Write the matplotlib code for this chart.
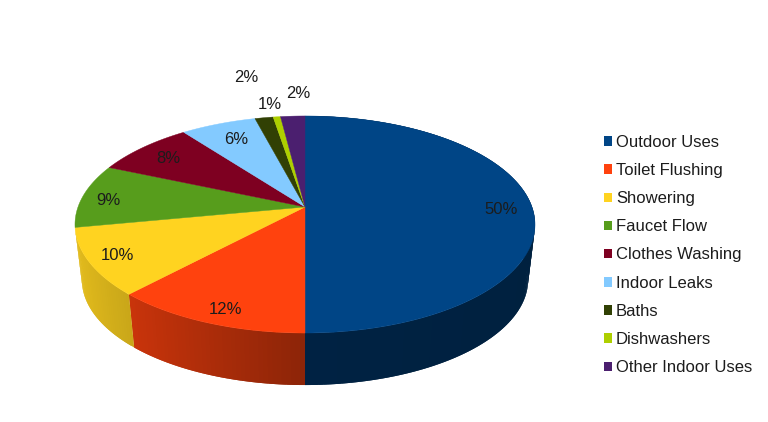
# 3D looking pie chart of household water use
import numpy as np
import matplotlib
matplotlib.use("Agg")
import matplotlib.pyplot as plt
from matplotlib.patches import Patch

names = ["Outdoor Uses", "Toilet Flushing", "Showering", "Faucet Flow", "Clothes Washing",
         "Indoor Leaks", "Baths", "Dishwashers", "Other Indoor Uses"]
# slice sizes as measured, the printed labels are rounded
shares = [50, 12, 10, 9.5, 8.2, 6.2, 1.5, 0.6, 2]
labels = ["50%", "12%", "10%", "9%", "8%", "6%", "2%", "1%", "2%"]
colors = ["#004586", "#ff420e", "#ffd320", "#579d1c", "#7e0021",
          "#83caff", "#314004", "#aecf00", "#4b1f6f"]

# pixel position of each percent label, same order as shares
label_xy = [(501, 209.5), (226, 309.5), (117, 255.5), (108, 200.5), (168, 158.5),
            (236, 139.5), (246, 77.5), (270, 104.5), (298, 93.5)]

plt.rcParams["font.family"] = ["Liberation Sans", "DejaVu Sans"]
TEXT = "#1c1c1c"

# perspective squash of the pie disc
CX, CY = 305, 207
RX, RY, TILT = 227, 105.7, 0.1613
BOTTOM_SCALE, BOTTOM_DROP = 0.97, 55.8
WALL_SLICES = 3  # only the first three slices show a side wall

def project(theta, scale=1.0, drop=0.0):
    # theta runs clockwise from 12 o'clock, in radians
    u, v = np.sin(theta), np.cos(theta)
    d = 1 + TILT * v
    return CX + scale * RX * u / d, CY + drop - scale * RY * v / d

def wall_shade(theta):
    u = np.sin(theta)
    return 0.55 - 0.35 * u if u < 0 else 0.5 - 0.03 * u

fig = plt.figure(figsize=(7.68, 4.22), dpi=100)
ax = fig.add_axes([0, 0, 1, 1])
ax.set_xlim(0, 768)
ax.set_ylim(422, 0)
ax.axis("off")

edges = np.radians(np.cumsum([0] + shares) * 3.6)
rgb = [np.array(matplotlib.colors.to_rgb(c)) for c in colors]

# side wall first, in overlapping strips so the shading can change along it
for i in range(WALL_SLICES):
    steps = max(int(np.degrees(edges[i + 1] - edges[i])), 2)
    t = np.linspace(edges[i], edges[i + 1], steps + 1)
    for j in range(steps):
        a, b = t[j], t[min(j + 2, steps)]
        arc = np.linspace(a, b, 6)
        top_x, top_y = project(arc)
        low_x, low_y = project(arc[::-1], BOTTOM_SCALE, BOTTOM_DROP)
        col = rgb[i] * wall_shade((t[j] + t[j + 1]) / 2)
        ax.fill(np.r_[top_x, low_x], np.r_[top_y, low_y], color=col, lw=0, zorder=2)

# top face
for i in range(len(shares)):
    t = np.linspace(edges[i], edges[i + 1], 120)
    x, y = project(t)
    ax.fill(np.r_[CX, x], np.r_[CY, y], color=colors[i], lw=0.3, zorder=3)

for label, (x, y) in zip(labels, label_xy):
    ax.text(x, y, label, fontsize=12, color=TEXT, ha="center", va="center", zorder=4)

handles = [Patch(facecolor=c, edgecolor="none", label=n) for c, n in zip(colors, names)]
ax.legend(handles=handles, loc="center left", bbox_to_anchor=(604 / 768, 1 - 255 / 422),
          frameon=False, fontsize=12, labelcolor=TEXT, handlelength=0.5, handleheight=0.5,
          handletextpad=0.22, labelspacing=0.79, borderpad=0, borderaxespad=0)

plt.savefig("out.png", dpi=100)
